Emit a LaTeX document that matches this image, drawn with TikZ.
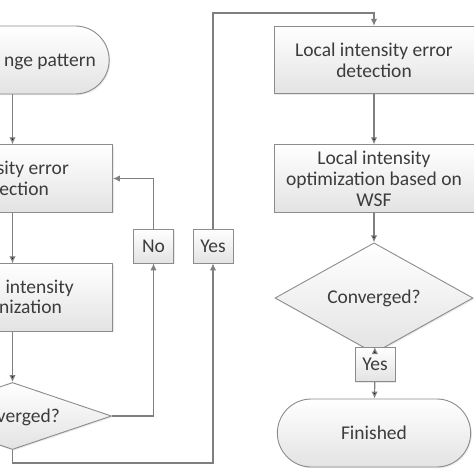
\documentclass[tikz,border=0pt]{standalone}
\usepackage{fontspec}
\setmainfont{Carlito}
\usepackage{tikz}
\usetikzlibrary{arrows.meta,positioning,shapes.geometric,shapes.misc,shadows}
\definecolor{boxline}{HTML}{8C8C8C}
\definecolor{arrline}{HTML}{7F7F7F}
\definecolor{txt}{HTML}{3C3C3C}
\tikzset{
base/.style={draw=boxline,line width=0.9pt,top color=white,bottom color=black!11,
  drop shadow={opacity=0.18,shadow xshift=1.2pt,shadow yshift=-1.2pt}},
proc/.style={base,rectangle,minimum width=200pt,minimum height=67.5pt,align=center},
term/.style={base,rounded rectangle,minimum width=200pt,minimum height=68pt},
decis/.style={base,diamond,minimum width=198pt,minimum height=67pt,inner sep=0pt},
tag/.style={base,rectangle,minimum width=40pt,minimum height=34pt,inner sep=0pt},
cut/.style={anchor=base east,inner sep=0pt},
line/.style={draw=arrline,line width=1.2pt,-{Latex[length=7pt,width=6.5pt]}}
}
\begin{document}
\begin{tikzpicture}[x=1pt,y=-1pt,font=\fontsize{19.5}{21}\selectfont,text=txt]
\useasboundingbox (0,0) rectangle (474,474);
\node[term] (fringe) at (12.5,60) {};
\node[proc] (gerr) at (12.5,178.5) {};
\node[proc] (gopt) at (12.5,297.5) {};
\node[decis] (gconv) at (12.5,416) {};
\node[cut] (fringet) at (96,66) {nge pattern};
\node[cut] (gerrt) at (69,174) {sity error};
\node[cut] (gerrb) at (49,195) {ection};
\node[cut] (goptt) at (74,293) {intensity};
\node[cut] (goptb) at (62,313) {nization};
\node[cut] (gconvt) at (60,422) {verged?};
\node[tag] (no) at (153.5,246) {No};
\node[tag] (yesa) at (213,246) {Yes};
\node[proc] (lerr) at (374,60) {Local intensity error\\detection};
\node[proc] (lopt) at (374,178.5) {Local intensity\\optimization based on\\WSF};
\node[decis] (conv) at (374,298) {Converged?};
\node[tag] (yesb) at (375,364.5) {Yes};
\node[term] (fin) at (374,433) {Finished};
\coordinate (up) at (374,13);
\path[line] (fringe) edge (gerr) (gerr) edge (gopt) (gopt) edge (gconv);
\draw[line] (gconv.east) -| (no.south);
\draw[line] (no.north) |- (gerr.east);
\draw[line] (gconv.south) -- ++(0,13) -| (yesa.south);
\draw[line] (yesa.north) |- (up) -- (lerr.north);
\path[line] (lerr) edge (lopt) (lopt) edge (conv) (conv) edge (yesb) (yesb) edge (fin);
\end{tikzpicture}
\end{document}
